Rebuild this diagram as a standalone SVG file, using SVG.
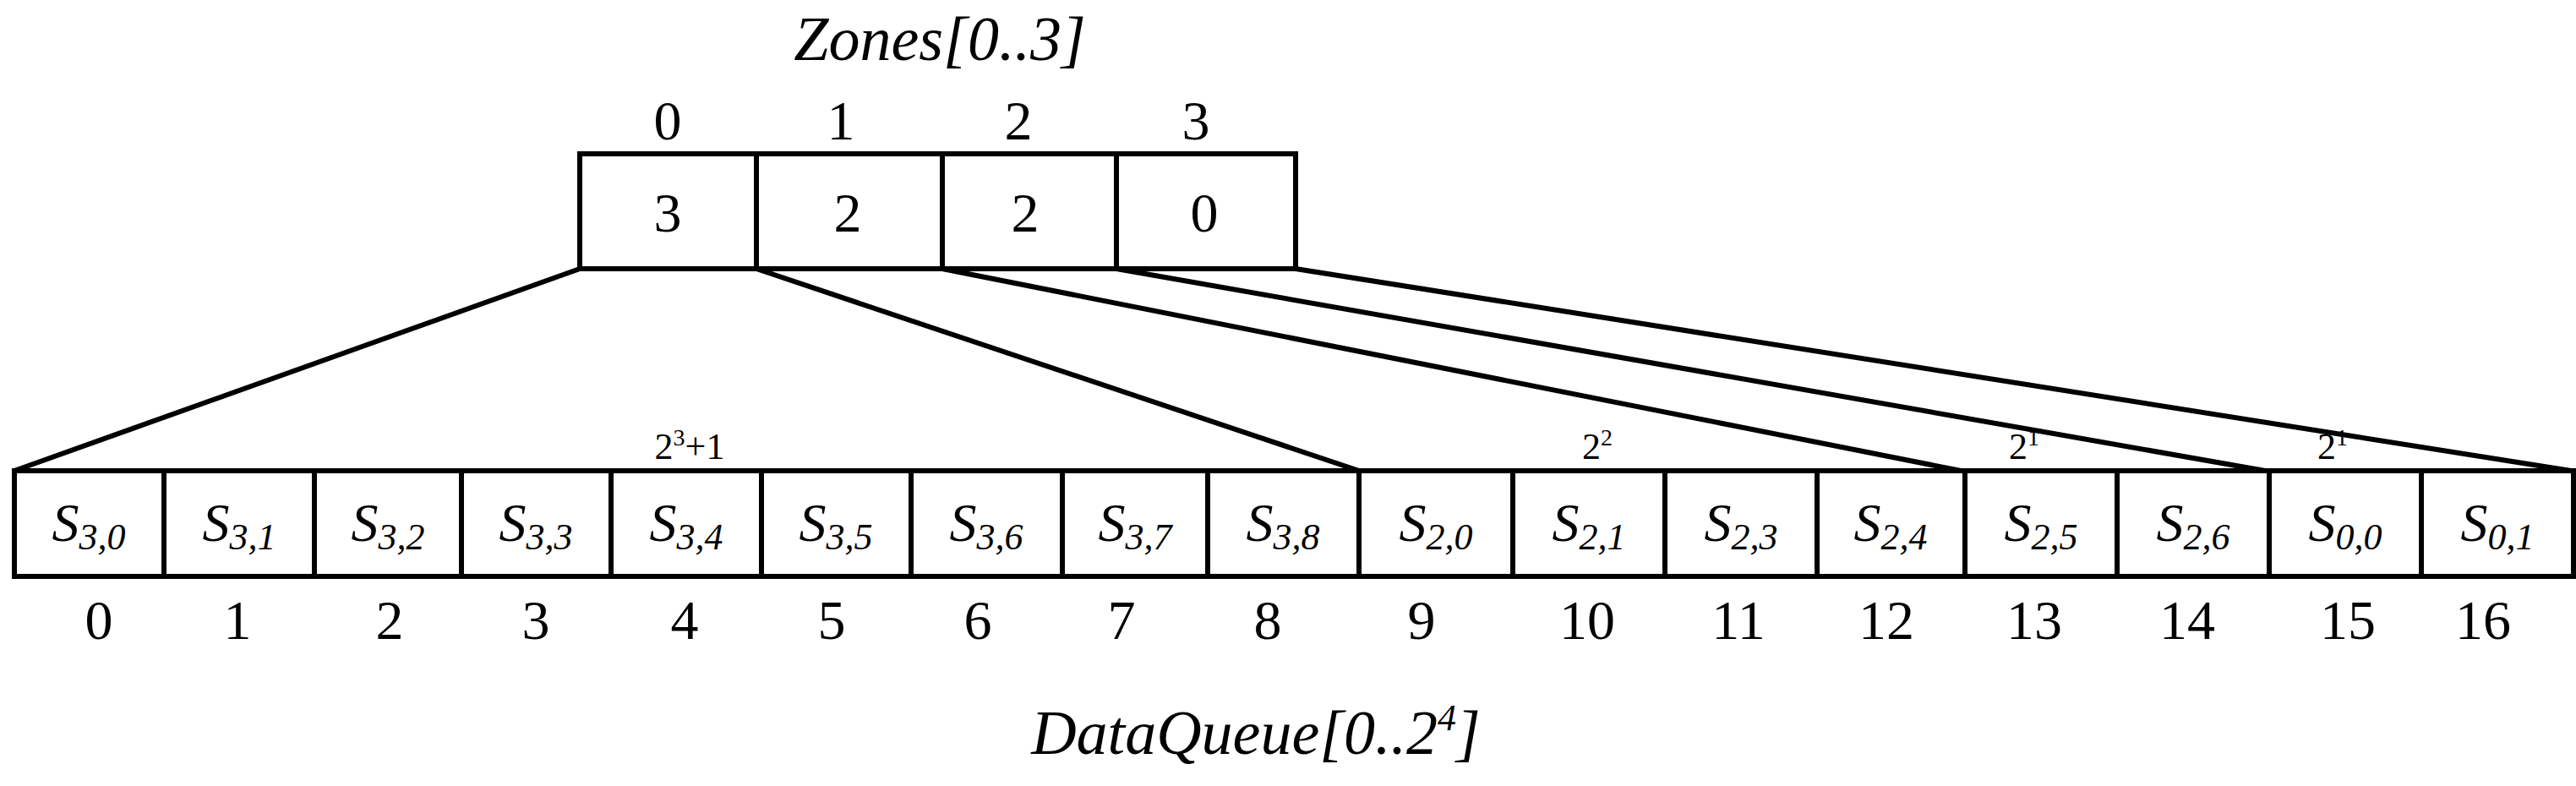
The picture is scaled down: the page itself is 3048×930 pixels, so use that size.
<svg xmlns="http://www.w3.org/2000/svg" width="3048" height="930" viewBox="0 0 3048 930">
<style>
.b{fill:#fff;stroke:#000;stroke-width:6}
.l{stroke:#000;stroke-width:6;fill:none}
text{font-family:"Liberation Serif",serif;fill:#000;text-anchor:middle}
.i{font-style:italic}
.n{font-size:66px}
.s{font-size:64px;font-style:italic}
.sub{font-size:44px}
.e{font-size:44px}
</style>
<rect width="3048" height="930" fill="#fff"/>
<text class="i" x="1112" y="71" font-size="74">Zones[0..3]</text>
<g id="zones">
<rect class="b" x="686" y="182" width="847" height="136"/>
<line class="l" x1="895" y1="182" x2="895" y2="318"/>
<line class="l" x1="1115" y1="182" x2="1115" y2="318"/>
<line class="l" x1="1321" y1="182" x2="1321" y2="318"/>
<g class="n"><text x="790" y="165">0</text><text x="995" y="165">1</text><text x="1205" y="165">2</text><text x="1415" y="165">3</text>
<text x="790" y="274">3</text><text x="1003" y="274">2</text><text x="1213" y="274">2</text><text x="1425" y="274">0</text></g>
</g>
<g id="connectors">
<line class="l" x1="686" y1="318" x2="17" y2="557"/>
<line class="l" x1="895" y1="318" x2="1608" y2="557"/>
<line class="l" x1="1115" y1="318" x2="2320" y2="557"/>
<line class="l" x1="1321" y1="318" x2="2680" y2="557"/>
<line class="l" x1="1533" y1="318" x2="3042" y2="557"/>
</g>
<g id="queue">
<rect class="b" x="17" y="557" width="3028" height="125"/>
<g class="l">
<line x1="194" y1="557" x2="194" y2="682"/><line x1="372" y1="557" x2="372" y2="682"/><line x1="546" y1="557" x2="546" y2="682"/><line x1="723" y1="557" x2="723" y2="682"/><line x1="901" y1="557" x2="901" y2="682"/><line x1="1078" y1="557" x2="1078" y2="682"/><line x1="1257" y1="557" x2="1257" y2="682"/><line x1="1429" y1="557" x2="1429" y2="682"/><line x1="1608" y1="557" x2="1608" y2="682"/><line x1="1790" y1="557" x2="1790" y2="682"/><line x1="1970" y1="557" x2="1970" y2="682"/><line x1="2150" y1="557" x2="2150" y2="682"/><line x1="2325" y1="557" x2="2325" y2="682"/><line x1="2505" y1="557" x2="2505" y2="682"/><line x1="2685" y1="557" x2="2685" y2="682"/><line x1="2865" y1="557" x2="2865" y2="682"/>
</g>
<g class="s">
<text x="105" y="640">S<tspan class="sub" dy="10">3,0</tspan></text>
<text x="283" y="640">S<tspan class="sub" dy="10">3,1</tspan></text>
<text x="459" y="640">S<tspan class="sub" dy="10">3,2</tspan></text>
<text x="634" y="640">S<tspan class="sub" dy="10">3,3</tspan></text>
<text x="812" y="640">S<tspan class="sub" dy="10">3,4</tspan></text>
<text x="989" y="640">S<tspan class="sub" dy="10">3,5</tspan></text>
<text x="1167" y="640">S<tspan class="sub" dy="10">3,6</tspan></text>
<text x="1343" y="640">S<tspan class="sub" dy="10">3,7</tspan></text>
<text x="1518" y="640">S<tspan class="sub" dy="10">3,8</tspan></text>
<text x="1699" y="640">S<tspan class="sub" dy="10">2,0</tspan></text>
<text x="1880" y="640">S<tspan class="sub" dy="10">2,1</tspan></text>
<text x="2060" y="640">S<tspan class="sub" dy="10">2,3</tspan></text>
<text x="2237" y="640">S<tspan class="sub" dy="10">2,4</tspan></text>
<text x="2415" y="640">S<tspan class="sub" dy="10">2,5</tspan></text>
<text x="2595" y="640">S<tspan class="sub" dy="10">2,6</tspan></text>
<text x="2775" y="640">S<tspan class="sub" dy="10">0,0</tspan></text>
<text x="2955" y="640">S<tspan class="sub" dy="10">0,1</tspan></text>
</g>
<g class="n">
<text x="117" y="756">0</text><text x="281" y="756">1</text><text x="461" y="756">2</text><text x="634" y="756">3</text><text x="810" y="756">4</text><text x="984" y="756">5</text><text x="1157" y="756">6</text><text x="1327" y="756">7</text><text x="1500" y="756">8</text><text x="1682" y="756">9</text><text x="1878" y="756">10</text><text x="2057" y="756">11</text><text x="2232" y="756">12</text><text x="2407" y="756">13</text><text x="2588" y="756">14</text><text x="2778" y="756">15</text><text x="2938" y="756">16</text>
</g>
<g class="e">
<text x="816" y="543">2<tspan font-size="28" dy="-16">3</tspan><tspan dy="16">+1</tspan></text>
<text x="1890" y="543">2<tspan font-size="28" dy="-16">2</tspan></text>
<text x="2395" y="543">2<tspan font-size="28" dy="-16">1</tspan></text>
<text x="2760" y="543">2<tspan font-size="28" dy="-16">1</tspan></text>
</g>
</g>
<text class="i" x="1486" y="892" font-size="74">DataQueue[0..2<tspan font-size="44" dy="-28">4</tspan><tspan dy="28">]</tspan></text>
</svg>
